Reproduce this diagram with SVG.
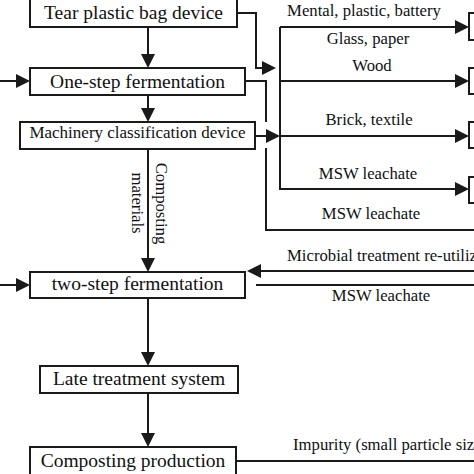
<svg xmlns="http://www.w3.org/2000/svg" width="474" height="474" viewBox="0 0 474 474">
<style>
.box{fill:#fff;stroke:#1a1a1a;stroke-width:2}
.ln{fill:none;stroke:#1a1a1a;stroke-width:2}
.t{font-family:"Liberation Serif","Times New Roman",serif;fill:#111;text-anchor:middle}
.big{font-size:19.5px}
.mid{font-size:17px}
.lab{font-size:16.7px}
.st{text-anchor:start}
</style>
<defs>
<marker id="ah" markerUnits="userSpaceOnUse" markerWidth="14" markerHeight="14" refX="0" refY="7" orient="auto" viewBox="0 0 14 14">
<path d="M0,0 L14,7 L0,14 z" fill="#1a1a1a"/>
</marker>
</defs>
<rect width="474" height="474" fill="#fff"/>
<g id="connectors">
<path class="ln" d="M148,27 V54" marker-end="url(#ah)"/>
<path class="ln" d="M148,95 V108" marker-end="url(#ah)"/>
<path class="ln" d="M148,149 V258" marker-end="url(#ah)"/>
<path class="ln" d="M148,298 V352" marker-end="url(#ah)"/>
<path class="ln" d="M148,393 V433" marker-end="url(#ah)"/>
<path class="ln" d="M0,81 H16" marker-end="url(#ah)"/>
<path class="ln" d="M0,285 H16" marker-end="url(#ah)"/>
<path class="ln" d="M237,13 H256 V68 H262" marker-end="url(#ah)"/>
<path class="ln" d="M280,27 V189"/>
<path class="ln" d="M280,27 H455" marker-end="url(#ah)"/>
<path class="ln" d="M280,81 H455" marker-end="url(#ah)"/>
<path class="ln" d="M255,136 H266" marker-end="url(#ah)"/>
<path class="ln" d="M280,136 H455" marker-end="url(#ah)"/>
<path class="ln" d="M279,189 H455" marker-end="url(#ah)"/>
<path class="ln" d="M245,81 H266 V122"/>
<path class="ln" d="M266,148 V230 H474"/>
<path class="ln" d="M474,271 H261" marker-end="url(#ah)"/>
<path class="ln" d="M256,285 H474"/>
<path class="ln" d="M236,461 H474"/>
</g>
<g id="n-tear"><rect class="box" x="30" y="-1" width="207" height="28"/><text class="t big" x="133.5" y="18.5">Tear plastic bag device</text></g>
<g id="n-one"><rect class="box" x="30" y="68" width="215" height="27"/><text class="t big" x="137.5" y="87.5">One-step fermentation</text></g>
<g id="n-mach"><rect class="box" x="20" y="122" width="235" height="27"/><text class="t mid" x="137.5" y="138">Machinery classification device</text></g>
<g id="n-two"><rect class="box" x="30" y="272" width="215" height="26"/><text class="t big" x="137.5" y="289.5">two-step fermentation</text></g>
<g id="n-late"><rect class="box" x="40" y="366" width="198" height="27"/><text class="t big" x="139" y="384.5">Late treatment system</text></g>
<g id="n-comp"><rect class="box" x="30" y="447" width="206" height="34"/><text class="t big" x="133" y="467">Composting production</text></g>
<g id="n-r1"><rect class="box" x="469" y="13" width="20" height="27"/></g>
<g id="n-r2"><rect class="box" x="469" y="68" width="20" height="26"/></g>
<g id="n-r3"><rect class="box" x="469" y="122" width="20" height="26"/></g>
<g id="n-r4"><rect class="box" x="469" y="177" width="20" height="26"/></g>
<g id="labels">
<text class="t lab" transform="translate(156,203.5) rotate(90)">Composting</text>
<text class="t lab" transform="translate(132,203) rotate(90)">materials</text>
<text class="t lab" x="364" y="16">Mental, plastic, battery</text>
<text class="t lab" x="368" y="43.5">Glass, paper</text>
<text class="t lab" x="372" y="71">Wood</text>
<text class="t lab" x="369" y="125">Brick, textile</text>
<text class="t lab" x="368" y="178.5">MSW leachate</text>
<text class="t lab" x="371" y="219">MSW leachate</text>
<text class="t lab st" x="287" y="261">Microbial treatment re-utilization</text>
<text class="t lab" x="381" y="301">MSW leachate</text>
<text class="t lab st" x="293" y="449.5">Impurity (small particle size)</text>
</g>
</svg>
